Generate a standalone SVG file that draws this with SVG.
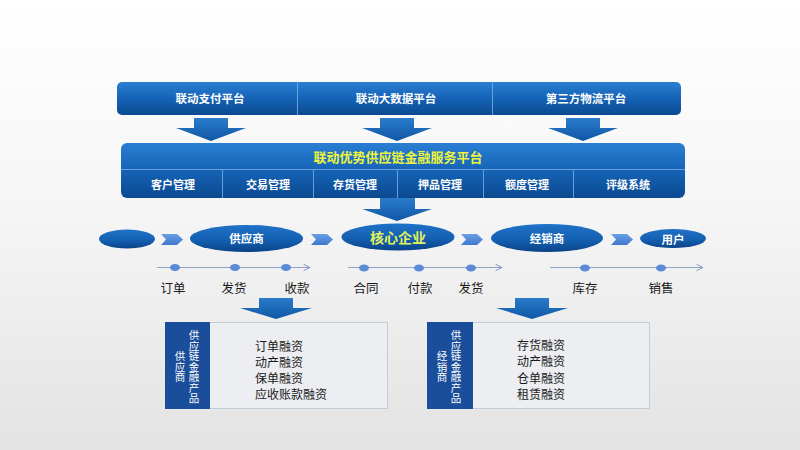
<svg xmlns="http://www.w3.org/2000/svg" width="800" height="450" viewBox="0 0 800 450">
<defs>
<linearGradient id="bg" x1="0" y1="0" x2="0" y2="1">
<stop offset="0" stop-color="#ffffff"/>
<stop offset="0.45" stop-color="#f6f6f6"/>
<stop offset="1" stop-color="#e3e3e3"/>
</linearGradient>
<linearGradient id="bar" x1="0" y1="0" x2="0" y2="1">
<stop offset="0" stop-color="#2a7fd2"/>
<stop offset="0.5" stop-color="#1563b6"/>
<stop offset="1" stop-color="#0b4a90"/>
</linearGradient>
<linearGradient id="ell" x1="0" y1="0" x2="0" y2="1">
<stop offset="0" stop-color="#1f72c8"/>
<stop offset="0.55" stop-color="#1460b2"/>
<stop offset="1" stop-color="#0a4388"/>
</linearGradient>
<linearGradient id="arr" x1="0" y1="0" x2="0" y2="1">
<stop offset="0" stop-color="#2a7ccc"/>
<stop offset="1" stop-color="#0f56a4"/>
</linearGradient>
<linearGradient id="chev" x1="0" y1="0" x2="0" y2="1">
<stop offset="0" stop-color="#6a9fe6"/>
<stop offset="1" stop-color="#3f78cc"/>
</linearGradient>
<marker id="open" viewBox="0 0 10 10" refX="9" refY="5" markerWidth="8" markerHeight="8" orient="auto" markerUnits="userSpaceOnUse">
<path d="M1 1 L9 5 L1 9" fill="none" stroke="#7f98c0" stroke-width="1.2"/>
</marker>
<style>
.wt{font-family:"Noto Sans CJK SC","Noto Sans",sans-serif;font-weight:bold;fill:#ffffff;text-anchor:middle;dominant-baseline:central}
.lb{font-family:"Noto Sans CJK SC","Noto Sans",sans-serif;fill:#1a1a1a;text-anchor:middle;dominant-baseline:central;font-size:12.5px}
.pr{font-family:"Noto Sans CJK SC","Noto Sans",sans-serif;fill:#1a1a1a;font-size:12px;dominant-baseline:central}
.vt{font-family:"Noto Sans CJK SC","Noto Sans",sans-serif;fill:#ffffff;font-size:10.5px;writing-mode:vertical-rl;text-anchor:middle;glyph-orientation-vertical:0}
.div{stroke:#7fb0e6;stroke-width:1;opacity:0.8}
.tl{stroke:#8ea4c6;stroke-width:1.2;fill:none}
.dot{fill:#5b8ad6}
.ar{fill:url(#arr)}
.ch{fill:url(#chev)}
.el{fill:url(#ell)}
</style>
</defs>
<rect x="0" y="0" width="800" height="450" fill="url(#bg)"/>

<g id="top-bar">
<rect x="117" y="82" width="564" height="33" rx="5" fill="url(#bar)"/>
<line class="div" x1="297.5" y1="82" x2="297.5" y2="115"/>
<line class="div" x1="492.5" y1="82" x2="492.5" y2="115"/>
<text class="wt" x="210" y="98" font-size="11.5">联动支付平台</text>
<text class="wt" x="396" y="98" font-size="11.5">联动大数据平台</text>
<text class="wt" x="586" y="98" font-size="11.5">第三方物流平台</text>
</g>

<g id="service-platform">
<rect x="121" y="143" width="564" height="55" rx="6" fill="url(#bar)"/>
<line class="div" x1="121" y1="169.5" x2="685" y2="169.5"/>
<line class="div" x1="222.5" y1="170" x2="222.5" y2="198"/>
<line class="div" x1="313.5" y1="170" x2="313.5" y2="198"/>
<line class="div" x1="397.5" y1="170" x2="397.5" y2="198"/>
<line class="div" x1="483.5" y1="170" x2="483.5" y2="198"/>
<line class="div" x1="573.5" y1="170" x2="573.5" y2="198"/>
<text class="wt" x="398" y="156" font-size="13" fill="#f2f53a" style="fill:#eef53c">联动优势供应链金融服务平台</text>
<text class="wt" x="173" y="184" font-size="11">客户管理</text>
<text class="wt" x="268" y="184" font-size="11">交易管理</text>
<text class="wt" x="355" y="184" font-size="11">存货管理</text>
<text class="wt" x="440" y="184" font-size="11">押品管理</text>
<text class="wt" x="527" y="184" font-size="11">额度管理</text>
<text class="wt" x="628" y="184" font-size="11">评级系统</text>
</g>

<g id="connectors">
<path class="ar" d="M194 118 H228 V128 H246 L211 141 L176 128 H194 Z"/>
<path class="ar" d="M380 118 H414 V128 H432 L397 141 L362 128 H380 Z"/>
<path class="ar" d="M566 118 H600 V128 H618 L583 141 L548 128 H566 Z"/>
<path class="ar" d="M380 198 H415 V209 H432 L397 221 L362 209 H380 Z"/>
<path class="ar" d="M259 298 H293 V308 H312 L276 319 L240 308 H259 Z"/>
<path class="ar" d="M515 298 H549 V308 H568 L532 319 L496 308 H515 Z"/>
<path class="ch" d="M161 234 H177 L183 239.5 L177 245 H161 L166 239.5 Z"/>
<path class="ch" d="M311 234 H327 L333 239.5 L327 245 H311 L316 239.5 Z"/>
<path class="ch" d="M461 234 H477 L483 239.5 L477 245 H461 L466 239.5 Z"/>
<path class="ch" d="M611 234 H627 L633 239.5 L627 245 H611 L616 239.5 Z"/>
<line class="tl" x1="157" y1="267.5" x2="310" y2="267.5" marker-end="url(#open)"/>
<line class="tl" x1="348" y1="267.5" x2="502" y2="267.5" marker-end="url(#open)"/>
<line class="tl" x1="550" y1="267.5" x2="703" y2="267.5" marker-end="url(#open)"/>
<ellipse class="dot" cx="175" cy="267.5" rx="5" ry="3.5"/>
<ellipse class="dot" cx="235" cy="267.5" rx="5" ry="3.5"/>
<ellipse class="dot" cx="286" cy="267.5" rx="5" ry="3.5"/>
<ellipse class="dot" cx="364" cy="268" rx="5" ry="3.5"/>
<ellipse class="dot" cx="419" cy="268" rx="5" ry="3.5"/>
<ellipse class="dot" cx="471" cy="268" rx="5" ry="3.5"/>
<ellipse class="dot" cx="585" cy="268" rx="5" ry="3.5"/>
<ellipse class="dot" cx="661" cy="268" rx="5" ry="3.5"/>
</g>

<g id="blank-node"><ellipse class="el" cx="127" cy="239" rx="28" ry="9.5"/></g>
<g id="supplier"><ellipse class="el" cx="246.5" cy="238.5" rx="56.5" ry="13.5"/><text class="wt" x="246.5" y="238" font-size="11.5">供应商</text></g>
<g id="core"><ellipse class="el" cx="398" cy="237" rx="56.5" ry="13.5"/><text class="wt" x="398" y="236.5" font-size="14" style="fill:#e2f25a">核心企业</text></g>
<g id="distributor"><ellipse class="el" cx="547" cy="238" rx="56" ry="14"/><text class="wt" x="547" y="238" font-size="11.5">经销商</text></g>
<g id="user"><ellipse class="el" cx="673" cy="238.5" rx="33" ry="9.5"/><text class="wt" x="673" y="238.5" font-size="11.5">用户</text></g>

<g id="timeline-labels">
<text class="lb" x="173" y="287">订单</text>
<text class="lb" x="234" y="287">发货</text>
<text class="lb" x="297" y="287">收款</text>
<text class="lb" x="366" y="287">合同</text>
<text class="lb" x="420" y="287">付款</text>
<text class="lb" x="471" y="287">发货</text>
<text class="lb" x="585" y="287">库存</text>
<text class="lb" x="661" y="287">销售</text>
</g>

<g id="supplier-products">
<rect x="165.5" y="322.5" width="222" height="86" fill="#eceef1" stroke="#c3cdd8" stroke-width="1"/>
<rect x="165" y="322" width="45" height="87" fill="#1a4e9a"/>
<text class="vt" x="194" y="367">供应链金融产品</text>
<text class="vt" x="180" y="367">供应商</text>
<text class="pr" x="255" y="345">订单融资</text>
<text class="pr" x="255" y="361">动产融资</text>
<text class="pr" x="255" y="377">保单融资</text>
<text class="pr" x="255" y="393">应收账款融资</text>
</g>

<g id="distributor-products">
<rect x="427.5" y="322.5" width="222" height="86" fill="#eceef1" stroke="#c3cdd8" stroke-width="1"/>
<rect x="427" y="322" width="46" height="87" fill="#1a4e9a"/>
<text class="vt" x="456" y="367">供应链金融产品</text>
<text class="vt" x="442" y="367">经销商</text>
<text class="pr" x="517" y="344">存货融资</text>
<text class="pr" x="517" y="360">动产融资</text>
<text class="pr" x="517" y="377">仓单融资</text>
<text class="pr" x="517" y="393">租赁融资</text>
</g>
</svg>
